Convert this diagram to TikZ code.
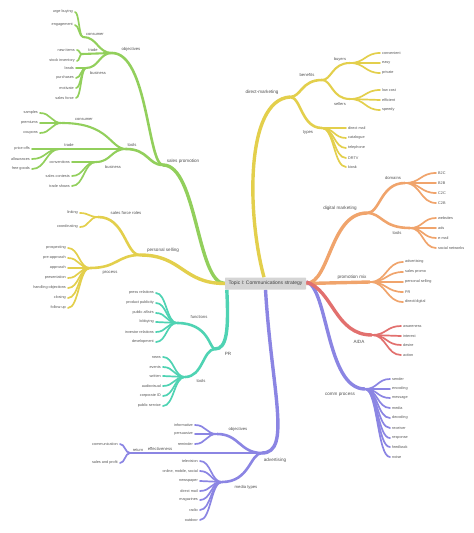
\documentclass[tikz,border=0pt]{standalone}
\usepackage{fontspec}
\setmainfont{Liberation Sans}
\usetikzlibrary{calc,backgrounds}
\definecolor{cgr}{HTML}{92CF5C}
\definecolor{cyl}{HTML}{E3CF4C}
\definecolor{ctl}{HTML}{4FD3B3}
\definecolor{cpu}{HTML}{8B85E3}
\definecolor{cor}{HTML}{F0A46C}
\definecolor{crd}{HTML}{E2706E}
\definecolor{labc}{HTML}{505050}
\definecolor{leafc}{HTML}{555555}
\definecolor{cfill}{HTML}{D5D5D5}
\newcommand\leafsL[4]{\foreach \tx/\yy [count=\i] in {#4} {\node[lfl] (#1-\i) at (#2,\yy) {\tx}; \draw[t4,#3] (#1) to[hc] (#1-\i.east);}}
\newcommand\leafsR[4]{\foreach \tx/\yy [count=\i] in {#4} {\node[lfr] (#1-\i) at (#2,\yy) {\tx}; \draw[t4,#3] (#1) to[hc] (#1-\i.west);}}
\begin{document}
\begin{tikzpicture}[x=1pt,y=-1pt, line cap=round,
  t1/.style={line width=3.4pt}, t2/.style={line width=2.6pt},
  t3/.style={line width=2.1pt}, t4/.style={line width=1.7pt},
  L1/.style={font=\fontsize{4.6}{5.5}\selectfont, text=labc, inner sep=0.5pt},
  L2/.style={font=\fontsize{4.2}{5}\selectfont, text=labc, inner sep=0.5pt},
  L3/.style={font=\fontsize{4.0}{5}\selectfont, text=labc, inner sep=0.5pt},
  lfl/.style={font=\fontsize{3.8}{4.5}\selectfont, text=leafc, inner xsep=2pt, inner ysep=0.5pt, anchor=east},
  lfr/.style={font=\fontsize{3.8}{4.5}\selectfont, text=leafc, inner xsep=2pt, inner ysep=0.5pt, anchor=west},
  ctr/.style={font=\fontsize{5}{6}\selectfont, text=black!75, fill=cfill, inner xsep=2pt, minimum width=81pt, minimum height=12pt, rounded corners=0.6pt},
  hc/.style={to path={let \p1=(\tikztostart), \p2=(\tikztotarget) in .. controls ({\x1+#1*(\x2-\x1)},\y1) and ({\x1+#1*(\x2-\x1)},\y2) .. (\tikztotarget)}},
  hc/.default=0.5]
\useasboundingbox (0,0) rectangle (474,533);
\node[ctr] (C) at (265.5,283.5) {Topic I: Communications strategy};
% junctions
\coordinate (sp) at (163,165);
\coordinate (gobj) at (112,53);
\coordinate (gcon) at (83,37);
\coordinate (gtrd) at (82,54);
\coordinate (gbus) at (86,68);
\coordinate (gtls) at (126,149);
\coordinate (tcon) at (62,123);
\coordinate (ttrd) at (60,149);
\coordinate (tbus) at (96,162);
\coordinate (ps) at (140,255);
\coordinate (sfr) at (98,217);
\coordinate (proc) at (90,268);
\coordinate (pr) at (215,349);
\coordinate (fun) at (177,323);
\coordinate (ptl) at (185,377);
\coordinate (adv) at (262,453);
\coordinate (aobj) at (217,434);
\coordinate (eff) at (146,453);
\coordinate (ret) at (130,453);
\coordinate (med) at (222,482);
\coordinate (dm) at (290,97);
\coordinate (ben) at (322,80);
\coordinate (buy) at (350,63);
\coordinate (sel) at (350,99);
\coordinate (typ) at (322,128);
\coordinate (dig) at (367,213);
\coordinate (dom) at (405,183);
\coordinate (dtl) at (410,228);
\coordinate (pmx) at (370,282);
\coordinate (aida) at (372,335);
\coordinate (cp) at (365,389);
% labels
\node[L1] (sp-l) at (183,161) {sales promotion};
\node[L2] (gobj-l) at (131,49) {objectives};
\node[L3] (gcon-l) at (95,34) {consumer};
\node[L3] (gtrd-l) at (93,50) {trade};
\node[L3] (gbus-l) at (98,73) {business};
\node[L2] (gtls-l) at (132,145) {tools};
\node[L3] (tcon-l) at (84,119) {consumer};
\node[L3] (ttrd-l) at (69,145) {trade};
\node[L3] (tbus-l) at (113,167) {business};
\node[L1] (ps-l) at (163,250) {personal selling};
\node[L2] (sfr-l) at (126,213) {sales force roles};
\node[L2] (proc-l) at (110,273) {process};
\node[L1] (pr-l) at (228,354) {PR};
\node[L2] (fun-l) at (199,317) {functions};
\node[L2] (ptl-l) at (201,381) {tools};
\node[L1] (adv-l) at (275,460) {advertising};
\node[L2] (aobj-l) at (238,429) {objectives};
\node[L2] (eff-l) at (160,449) {effectiveness};
\node[L3] (ret-l) at (138,450) {return};
\node[L2] (med-l) at (246,487) {media types};
\node[L1] (dm-l) at (262,92) {direct-marketing};
\node[L2] (ben-l) at (307,75) {benefits};
\node[L3] (buy-l) at (340,59) {buyers};
\node[L3] (sel-l) at (340,104) {sellers};
\node[L2] (typ-l) at (308,133) {types};
\node[L1] (dig-l) at (340,208) {digital marketing};
\node[L2] (dom-l) at (393,178) {domains};
\node[L2] (dtl-l) at (397,233) {tools};
\node[L1] (pmx-l) at (352,277) {promotion mix};
\node[L1] (aida-l) at (359,342) {AIDA};
\node[L1] (cp-l) at (340,395) {comm process};
% trunks behind the centre box
\begin{scope}[on background layer]
\draw[t1,cgr] (C.west) to[hc=0.45] (sp);
\draw[t1,cyl] (C.west) to[hc] (ps);
\draw[t1,ctl] ([xshift=2pt]C.south west) .. controls +(2,40) and +(12,0) .. (pr);
\draw[t1,cpu] (C.south) .. controls +(6,100) and +(30,0) .. (adv);
\draw[t1,cyl] ([xshift=-1.5pt]C.north) .. controls (247,215) and (245,100) .. (dm);
\draw[t1,cor] (C.east) .. controls (330,283) and (330,213) .. (dig);
\draw[t1,cor] (C.east) -- (pmx);
\draw[t1,cpu] ([yshift=1.5pt]C.east) .. controls (328,286) and (326,389) .. (cp);
\draw[t1,crd] ([yshift=1.5pt]C.east) .. controls (333,290) and (335,335) .. (aida);
\end{scope}
% green
\draw[t2,cgr] (sp) to[hc=0.3] (gobj);
\draw[t2,cgr] (sp) to[hc=0.4] (gtls);
\draw[t3,cgr] (gobj) to[hc] (gcon);
\draw[t3,cgr] (gobj) to[hc] (gtrd);
\draw[t3,cgr] (gobj) to[hc] (gbus);
\draw[t3,cgr] (gtls) to[hc=0.25] (tcon);
\draw[t3,cgr] (gtls) to[hc] (ttrd);
\draw[t3,cgr] (gtls) to[hc] (tbus);
\leafsL{gcon}{75}{cgr}{urge buying/12, engagement/25}
\leafsL{gtrd}{77}{cgr}{new items/50, stock inventory/61}
\leafsL{gbus}{76}{cgr}{leads/68, purchases/78, motivate/88, sales force/98}
\leafsL{tcon}{40}{cgr}{samples/113, premiums/123, coupons/133}
\leafsL{ttrd}{32}{cgr}{price offs/149, allowances/159, free goods/169}
\leafsL{tbus}{72}{cgr}{conventions/162, sales contests/176, trade shows/186}
% yellow personal selling
\draw[t2,cyl] (ps) to[hc=0.35] (sfr);
\draw[t2,cyl] (ps) to[hc=0.45] (proc);
\leafsL{sfr}{80}{cyl}{linking/213, coordinating/227}
\leafsL{proc}{68}{cyl}{prospecting/248, pre-approach/258, approach/268, presentation/278, handling objections/288, closing/298, follow-up/308}
% teal PR
\draw[t2,ctl] (pr) to[hc=0.15] (fun);
\draw[t2,ctl] (pr) to[hc=0.4] (ptl);
\leafsL{fun}{156}{ctl}{press relations/293, product publicity/303, public affairs/313, lobbying/322, investor relations/332, development/342}
\leafsL{ptl}{163}{ctl}{news/357, events/367, written/376, audiovisual/386, corporate ID/396, public service/406}
% purple advertising
\draw[t2,cpu] (adv) to[hc] (aobj);
\draw[t2,cpu] (adv) -- (eff);
\draw[t3,cpu] (eff) -- (ret);
\draw[t2,cpu] (adv) to[hc=0.3] (med);
\leafsL{aobj}{195}{cpu}{informative/425, persuasive/434, reminder/444}
\leafsL{ret}{120}{cpu}{communication/444, sales and profit/463}
\leafsL{med}{200}{cpu}{television/461, {online, mobile, social}/471, newspaper/481, direct mail/491, magazines/500, radio/510, outdoor/520}
% yellow direct marketing
\draw[t2,cyl] (dm) to[hc=0.35] (ben);
\draw[t2,cyl] (dm) to[hc=0.35] (typ);
\draw[t3,cyl] (ben) to[hc=0.35] (buy);
\draw[t3,cyl] (ben) to[hc=0.35] (sel);
\leafsR{buy}{380}{cyl}{convenient/53, easy/63, private/73}
\leafsR{sel}{380}{cyl}{low cost/90, efficient/100, speedy/110}
\leafsR{typ}{346}{cyl}{direct mail/128, catalogue/138, telephone/148, DRTV/158, kiosk/167}
% orange
\draw[t2,cor] (dig) to[hc=0.35] (dom);
\draw[t2,cor] (dig) to[hc=0.35] (dtl);
\leafsR{dom}{436}{cor}{B2C/173, B2B/183, C2C/193, C2B/203}
\leafsR{dtl}{436}{cor}{websites/218, ads/228, e-mail/238, social networks/248}
\leafsR{pmx}{403}{cor}{advertising/262, sales promo/272, personal selling/282, PR/292, {direct/digital}/302}
% red AIDA
\leafsR{aida}{401}{crd}{awareness/326, interest/336, desire/345, action/355}
% purple comm process
\leafsR{cp}{390}{cpu}{sender/379, encoding/389, message/398, media/408, decoding/418, receiver/428, response/438, feedback/447, noise/457}
\end{tikzpicture}
\end{document}
